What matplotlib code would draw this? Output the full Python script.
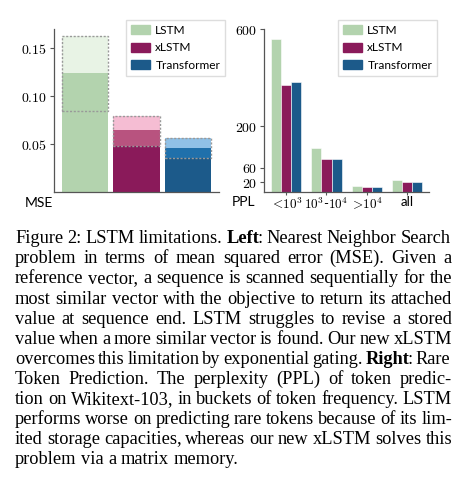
import re
import numpy as np
import matplotlib
matplotlib.use("Agg")
import matplotlib.pyplot as plt
from matplotlib.patches import Rectangle, Patch

plt.rcParams['font.family'] = ['Lato', 'DejaVu Sans']
plt.rcParams['mathtext.fontset'] = 'cm'

# data
models = ["LSTM", "xLSTM", "Transformer"]
mse_min = [0.085, 0.048, 0.0355]
mse_mean = [0.124, 0.0645, 0.046]
mse_max = [0.163, 0.080, 0.0565]

buckets = [r"$<\!10^3$", "$10^3$-$10^4$", r"$>\!10^4$", "all"]
ppl_lstm = [556, 122, 10.6, 24.5]
ppl_xlstm = [361, 88, 8.4, 20]
ppl_transformer = [373, 88, 8.4, 20]

mse_ticks = [0.05, 0.10, 0.15]
ppl_ticks = [20, 60, 200, 600]

# base / between min-mean / between mean-max
dark = ["#b3d3ae", "#8a1a5a", "#1c5a8a"]
mid = ["#b3d3ae", "#b8537f", "#2070ab"]
light = ["#e8f3e5", "#f5bdd3", "#90c1e7"]

W, H = 474, 482
fig = plt.figure(figsize=(W/100, H/100), dpi=100)

def ax_rect(x0, x1, ytop, ybot):
    return [x0/W, 1-ybot/H, (x1-x0)/W, (ybot-ytop)/H]

def style(ax):
    for s in ['top', 'right']:
        ax.spines[s].set_visible(False)
    for s in ['left', 'bottom']:
        ax.spines[s].set_color('#555555')
        ax.spines[s].set_linewidth(0.9)
    ax.tick_params(length=3, width=0.8, color='#555555', labelsize=10, pad=2)

# ---- left: MSE
ax1 = fig.add_axes(ax_rect(54.3, 219, 29.3, 192.3))
style(ax1)
x = np.arange(len(models))
bw = 0.9
mn = np.array(mse_min); me = np.array(mse_mean); mx = np.array(mse_max)
ax1.bar(x, mn, bw, color=dark, lw=0)
ax1.bar(x, me-mn, bw, bottom=mn, color=mid, lw=0)
ax1.bar(x, mx-me, bw, bottom=me, color=light, lw=0)
for i in range(len(models)):
    ax1.add_patch(Rectangle((x[i]-bw/2, mn[i]), bw, mx[i]-mn[i], fill=False,
                            ec='#999999', lw=1, ls=(0, (1.5, 1.2))))
ax1.set_xlim(-0.6, 2.6)
ax1.set_ylim(0, 0.17)
ax1.set_xticks([])
ax1.set_yticks(mse_ticks)
ax1.set_yticklabels([f"${v:.2f}$" for v in mse_ticks])

# ---- right: PPL
def fwd(v):
    return np.sign(v)*np.abs(v)**0.83
def inv(v):
    return np.sign(v)*np.abs(v)**(1/0.83)

ax2 = fig.add_axes(ax_rect(264, 429.3, 29.3, 191.7))
style(ax2)
ax2.set_yscale('function', functions=(fwd, inv))
g = np.arange(len(buckets))
w = 0.25
for k, vals in enumerate([ppl_lstm, ppl_xlstm, ppl_transformer]):
    ax2.bar(g + (k-1)*w, vals, w, color=dark[k], ec='white', lw=0.4)
ax2.set_xlim(-0.55, 3.55)
ax2.set_ylim(0, 600)
ax2.set_yticks(ppl_ticks)
ax2.set_yticklabels([f"${v}$" for v in ppl_ticks])
ax2.yaxis.set_minor_locator(matplotlib.ticker.NullLocator())
ax2.set_xticks(g)
ax2.set_xticklabels(buckets)
ax2.tick_params(axis='x', length=2, labelsize=9.5, pad=1)

fig.text(25/W, 1-203.3/H, "MSE", fontsize=10, va='center', ha='left')
fig.text(232/W, 1-201.7/H, "PPL", fontsize=10, va='center', ha='left')

handles = [Patch(color=c, label=m) for c, m in zip(dark, models)]
for xr in [225, 437]:
    fig.legend(handles=handles, loc='upper right', bbox_to_anchor=(xr/W, 1-20/H),
               fontsize=8.6, fancybox=False, edgecolor='#dddddd', framealpha=1,
               handlelength=1.6, handleheight=0.75, labelspacing=0.55,
               borderpad=0.4, handletextpad=0.45, borderaxespad=0)

# ---- caption, justified
caption = [
    "Figure 2: LSTM limitations. *Left*: Nearest Neighbor Search",
    "problem in terms of mean squared error (MSE). Given a",
    "reference vector, a sequence is scanned sequentially for the",
    "most similar vector with the objective to return its attached",
    "value at sequence end. LSTM struggles to revise a stored",
    "value when a more similar vector is found. Our new xLSTM",
    "overcomes this limitation by exponential gating. *Right*: Rare",
    "Token Prediction. The perplexity (PPL) of token predic-",
    "tion on Wikitext-103, in buckets of token frequency. LSTM",
    "performs worse on predicting rare tokens because of its lim-",
    "ited storage capacities, whereas our new xLSTM solves this",
    "problem via a matrix memory.",
]
cfs = 13.2
serif = ['Liberation Serif', 'DejaVu Serif']
renderer = fig.canvas.get_renderer()
left, right = 15, 452
space = 0.25*cfs*100/72

for i, line in enumerate(caption):
    ybase = 1 - (243.3 + 20.09*i)/H
    words = []
    for word in line.split(' '):
        pieces = []
        for p in re.split(r'(\*[^*]+\*)', word):
            if not p:
                continue
            bold = p.startswith('*')
            t = fig.text(0, ybase, p.strip('*'), fontsize=cfs, family=serif,
                         weight='bold' if bold else 'normal', va='baseline')
            pieces.append((t, t.get_window_extent(renderer).width))
        words.append(pieces)
    total = sum(wd for pcs in words for _, wd in pcs)
    if i < len(caption) - 1:
        gap = (right - left - total)/(len(words) - 1)
    else:
        gap = space
    xp = left
    for pcs in words:
        for j, (t, wd) in enumerate(pcs):
            if j > 0:
                xp -= 1.5
            t.set_x(xp/W)
            xp += wd
        xp += gap

fig.savefig("out.png", dpi=100)
